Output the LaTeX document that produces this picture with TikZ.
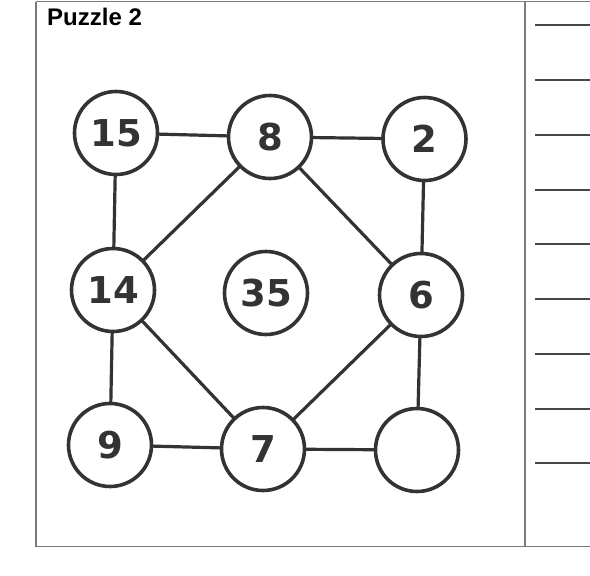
\documentclass[tikz,border=0pt]{standalone}
\usepackage{fontspec}
\usepackage{xcolor}
\usepackage{tikz}
\usetikzlibrary{positioning}
\newfontfamily\titlefont{Liberation Sans}
\newfontfamily\digitfont{DejaVu Sans}
\definecolor{ink}{HTML}{333333}
\definecolor{rule}{HTML}{7A7A7A}

\begin{document}
\begin{tikzpicture}[
  x=1pt, y=-1pt,
  spot/.style={circle, draw=ink, line width=3.6pt, minimum size=83pt, inner sep=0pt, outer sep=0pt,
    text=ink, font=\digitfont\bfseries\fontsize{37}{37}\selectfont},
  link/.style={draw=ink, line width=3.2pt},
  frame/.style={draw=rule, line width=1.4pt},
  blank/.style={draw=ink!90, line width=1.2pt}
]
\useasboundingbox (0,0) rectangle (590,576);
% frame of the sheet
\draw[frame] (36,1.5) -- (590,1.5);
\draw[frame] (36,546.5) -- (590,546.5);
\draw[frame] (36,1.5) -- (36,546.5);
\draw[frame] (525,1.5) -- (525,546.5);
\node[anchor=base west, font=\titlefont\bfseries\fontsize{24}{24}\selectfont, inner sep=0pt] (title) at (47,25) {Puzzle 2};

% puzzle
\node[spot] (tl) at (116,133) {15};
\node[spot, right=71pt of tl, yshift=-4pt] (tm) {8};
\node[spot, right=71.5pt of tm, yshift=-2pt] (tr) {2};
\node[spot, below=74pt of tl, xshift=-3pt] (ml) {14};
\node[spot, right=70pt of ml, yshift=-3pt] (mm) {35};
\node[spot, right=72pt of mm, yshift=-2pt] (mr) {6};
\node[spot, below=72pt of ml, xshift=-3pt] (bl) {9};
\node[spot, right=70pt of bl, yshift=-4pt] (bm) {7};
\node[spot, right=71pt of bm, yshift=-1pt] (br) {};
\draw[link] (tl) -- (tm);
\draw[link] (tm) -- (tr);
\draw[link] (tl) -- (ml);
\draw[link] (tr) -- (mr);
\draw[link] (tm) -- (ml);
\draw[link] (tm) -- (mr);
\draw[link] (ml) -- (bm);
\draw[link] (mr) -- (bm);
\draw[link] (ml) -- (bl);
\draw[link] (mr) -- (br);
\draw[link] (bl) -- (bm);
\draw[link] (bm) -- (br);

% answer lines
\draw[blank] (535,25) -- (590,25);
\draw[blank] (535,80) -- (590,80);
\draw[blank] (535,135) -- (590,135);
\draw[blank] (535,190) -- (590,190);
\draw[blank] (535,244) -- (590,244);
\draw[blank] (535,299) -- (590,299);
\draw[blank] (535,354) -- (590,354);
\draw[blank] (535,409) -- (590,409);
\draw[blank] (535,463) -- (590,463);
\end{tikzpicture}
\end{document}
